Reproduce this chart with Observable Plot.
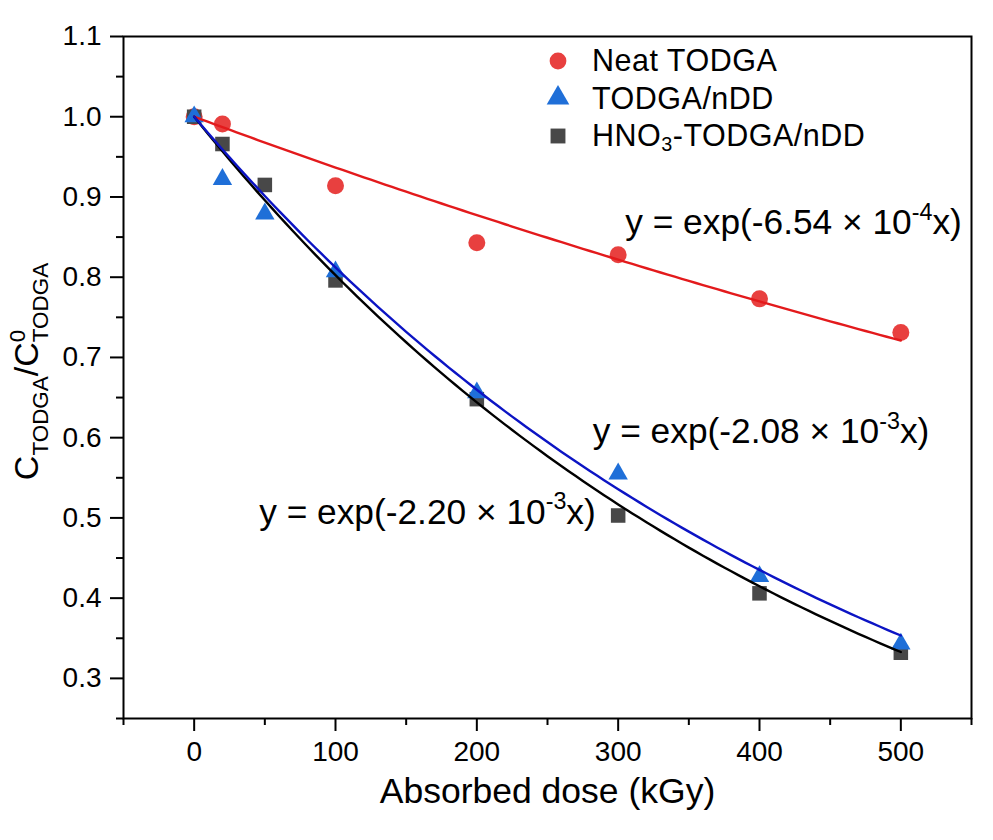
<!DOCTYPE html>
<html>
<head>
<meta charset="utf-8">
<script src="https://cdn.jsdelivr.net/npm/d3@7"></script>
<script src="https://cdn.jsdelivr.net/npm/@observablehq/plot@0.6"></script>
<style>
  html, body { margin: 0; padding: 0; background: #fff; }
  #wrap { position: relative; width: 993px; height: 840px; overflow: hidden;
          font-family: Arial, "Liberation Sans", Helvetica, sans-serif; }
  #wrap > svg { display: block; }
  #legend { position: absolute; left: 546px; top: 42px; }
  #legend > div { display: flex !important; flex-direction: column !important;
                  align-items: flex-start !important; margin: 0 !important; min-height: 0 !important;
                  font: 30.5px Arial, "Liberation Sans", Helvetica, sans-serif !important;
                  letter-spacing: 0.5px; color: #000 !important; }
  #legend > div > span { display: flex !important; align-items: center !important;
                         height: 37.5px; margin: 0 !important; }
  #legend > div > span > svg { margin-right: 22px !important; overflow: visible; }
  #legend sub { font-size: 65%; vertical-align: -0.25em; line-height: 0; }
</style>
</head>
<body>
<div id="wrap"><div id="legend"></div></div>
<script>
// Series names, marker colours and symbols (legend order)
const seriesNames = ["Neat TODGA", "TODGA/nDD", "HNO3-TODGA/nDD"];
const markerColors = ["#e8403f", "#1f6fd8", "#484848"];
const markerSymbols = ["circle", "triangle", "square"];
const markerRadius = [8.5, 7.2, 8.2];
const fitColors = ["#e31a1c", "#0c14c4", "#000000"];

// Measured C/C0 ratios versus absorbed dose (kGy)
const neatDose = [0, 20, 100, 200, 300, 400, 500];
const neatRatio = [1.000, 0.991, 0.914, 0.843, 0.828, 0.773, 0.731];
const nddDose = [0, 20, 50, 100, 200, 300, 400, 500];
const nddRatio = [1.000, 0.922, 0.879, 0.807, 0.656, 0.555, 0.427, 0.343];
const hno3Dose = [0, 20, 50, 100, 200, 300, 400, 500];
const hno3Ratio = [1.000, 0.966, 0.915, 0.796, 0.648, 0.503, 0.406, 0.332];

// First-order fits y = exp(-k x), k = mantissa × 10^exponent
const fitMantissa = [-6.54, -2.08, -2.20];
const fitExponent = [-4, -3, -3];
// Where each fit equation is written (dose, ratio)
const eqDose = [305, 282, 46];
const eqRatio = [0.868, 0.607, 0.507];

// Axis ticks
const xTicks = [0, 100, 200, 300, 400, 500];
const xMinor = [-50, 50, 150, 250, 350, 450, 550];
const yTicks = [0.3, 0.4, 0.5, 0.6, 0.7, 0.8, 0.9, 1.0, 1.1];
const yMinor = [0.25, 0.35, 0.45, 0.55, 0.65, 0.75, 0.85, 0.95, 1.05];

const xTitle = "Absorbed dose (kGy)";
const yTitle = "C_{TODGA}/C^{0}_{TODGA}";

const FONT = 'Arial, "Liberation Sans", Helvetica, sans-serif';
const EQ_SIZE = 35.3;
const YT_SIZE = 34;

const toRows = (dose, ratio, s) => dose.map((d, i) => ({dose: d, ratio: ratio[i], series: seriesNames[s]}));
const pointSets = [toRows(neatDose, neatRatio, 0), toRows(hno3Dose, hno3Ratio, 2), toRows(nddDose, nddRatio, 1)];
const pointIdx = [0, 2, 1];

const fitCurve = (s) => {
  const k = -fitMantissa[s] * Math.pow(10, fitExponent[s]);
  return d3.range(0, 500.001, 5).map(x => ({dose: x, ratio: Math.exp(-k * x)}));
};

const equations = fitMantissa.map((m, i) => ({
  dose: eqDose[i], ratio: eqRatio[i],
  label: `y = exp(${m.toFixed(2)} × 10^{${fitExponent[i]}}x)`
}));

const chart = Plot.plot({
  width: 993,
  height: 840,
  marginLeft: 123,
  marginRight: 22,
  marginTop: 36,
  marginBottom: 122,
  style: {fontFamily: FONT, fontSize: "28px", color: "#000", background: "#fff", overflow: "visible"},
  x: {domain: [-50, 550]},
  y: {domain: [0.25, 1.1]},
  color: {domain: seriesNames, range: markerColors},
  symbol: {domain: seriesNames, range: markerSymbols},
  marks: [
    Plot.axisX(xMinor, {tickSize: 7, strokeWidth: 2, tickFormat: () => "", label: null}),
    Plot.axisX(xTicks, {tickSize: 13, tickPadding: 10, strokeWidth: 2, fontSize: 28, tickFormat: d => String(d), label: null}),
    Plot.axisY(yMinor, {tickSize: 7, strokeWidth: 2, tickFormat: () => "", label: null}),
    Plot.axisY(yTicks, {tickSize: 13, tickPadding: 9, strokeWidth: 2, fontSize: 28, tickFormat: d3.format(".1f"), label: null}),
    ...pointSets.map((rows, j) => Plot.dot(rows, {
      x: "dose", y: "ratio", symbol: "series", fill: "series", r: markerRadius[pointIdx[j]]
    })),
    ...[0, 2, 1].map(s => Plot.line(fitCurve(s), {
      x: "dose", y: "ratio", stroke: fitColors[s], strokeWidth: 2.4, curve: "linear"
    })),
    Plot.frame({stroke: "#000", strokeWidth: 2}),
    Plot.text(equations, {
      x: "dose", y: "ratio", text: "label", textAnchor: "start", fontSize: EQ_SIZE,
      fill: "#000", ariaDescription: "equation"
    }),
    Plot.text([xTitle], {
      text: d => d, frameAnchor: "bottom", textAnchor: "middle", dy: 84, fontSize: 35.5,
      fill: "#000", ariaDescription: "x-title"
    }),
    Plot.text([yTitle], {
      text: d => d, frameAnchor: "left", textAnchor: "middle", rotate: -90, dx: -96, dy: -6,
      fontSize: YT_SIZE, fill: "#000", ariaDescription: "y-title"
    })
  ]
});

const wrap = document.getElementById("wrap");
wrap.insertBefore(chart, wrap.firstChild);

// Turn ^{..} and _{..} markup into raised / lowered tspans
function richText(textEl, fs) {
  const src = textEl.textContent;
  const parts = [];
  const re = /([\^_])\{([^}]*)\}/g;
  let last = 0, m;
  while ((m = re.exec(src))) {
    if (m.index > last) parts.push({t: src.slice(last, m.index), k: ""});
    parts.push({t: m[2], k: m[1]});
    last = re.lastIndex;
  }
  if (last < src.length) parts.push({t: src.slice(last), k: ""});
  const el = d3.select(textEl);
  el.text(null);
  let shift = 0, prev = null;
  for (const p of parts) {
    const target = p.k === "^" ? -0.40 * fs : p.k === "_" ? 0.28 * fs : 0;
    const ts = el.append("tspan")
      .attr("font-size", p.k ? 0.66 * fs : fs)
      .attr("dy", target - shift)
      .text(p.t);
    if (p.k === "_" && prev && prev.k === "^") ts.attr("dx", -prev.node.getComputedTextLength());
    shift = target;
    prev = {k: p.k, node: ts.node()};
  }
}
const rich = (label, fs) => {
  chart.querySelectorAll("text").forEach(t => {
    if (t.closest(`[aria-description="${label}"]`)) richText(t, fs);
  });
};
rich("equation", EQ_SIZE);
rich("y-title", YT_SIZE);

// Symbol legend (colour and shape combined)
const legend = chart.legend("symbol", {swatchSize: 24, r: 5.6});
document.getElementById("legend").appendChild(legend);
legend.querySelectorAll("span").forEach(span => {
  for (const node of Array.from(span.childNodes)) {
    if (node.nodeType === 3 && node.textContent.includes("HNO3")) {
      const frag = document.createElement("span");
      frag.innerHTML = node.textContent.replace("HNO3", "HNO<sub>3</sub>");
      span.replaceChild(frag, node);
    }
  }
});
</script>
</body>
</html>
